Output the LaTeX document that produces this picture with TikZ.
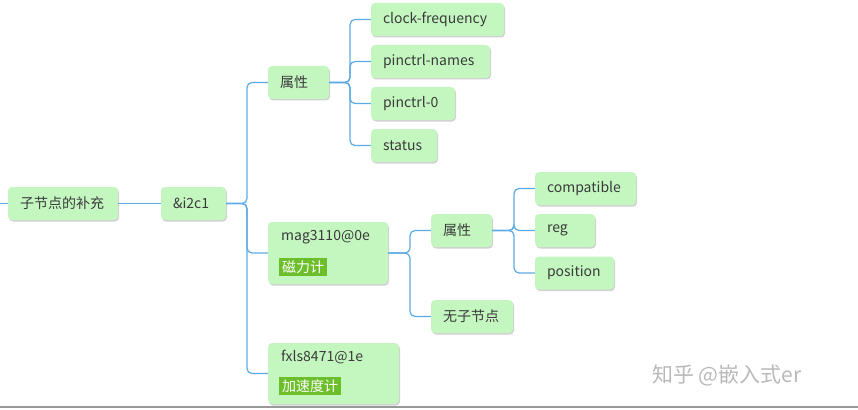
\documentclass[tikz,border=0pt]{standalone}
\usepackage{fontspec}
\setmainfont{Noto Sans CJK SC}
\usetikzlibrary{shadows}
\definecolor{nfill}{HTML}{C4F7C0}
\definecolor{lblue}{HTML}{5AAAE6}
\definecolor{tagg}{HTML}{6CBF2B}
\definecolor{txt}{HTML}{3A3A3A}
\begin{document}
\begin{tikzpicture}[x=1pt,y=-1pt,
  box/.style={fill=nfill,rounded corners=4pt,text=txt,font=\fontsize{14}{16}\selectfont,
    inner xsep=12pt,inner ysep=0pt,align=left,text width=#1-24pt,minimum width=#1,minimum height=33pt,anchor=center,
    drop shadow={shadow xshift=1pt,shadow yshift=-1.5pt,fill=black!18,opacity=1}},
  tall/.style={minimum height=#1},
  tag/.style={fill=tagg,text=white,font=\fontsize{14}{16}\selectfont,inner xsep=3pt,inner ysep=3pt,anchor=west},
  conn/.style={draw=lblue,line width=1.2pt,rounded corners=5pt}]
\useasboundingbox (0,0) rectangle (858,409);
\draw[gray!80,line width=1.2pt] (0,407) -- (858,407);
% nodes
\node[box=110pt] (root) at (63,203.5) {子节点的补充};
\node[box=65pt] (i2c) at (193.5,203.5) {\&i2c1};
\node[box=61pt] (p1) at (298.5,82.5) {属性};
\node[box=133pt] (cf) at (437.5,19.5) {clock-frequency};
\node[box=119pt] (pn) at (430.5,61.5) {pinctrl-names};
\node[box=84pt] (p0) at (413,103.5) {pinctrl-0};
\node[box=66pt] (st) at (404,145.5) {status};
\node[box=120pt,tall=62pt] (mag) at (328,253) {};
\node[anchor=west,text=txt,font=\fontsize{14}{16}\selectfont,inner sep=0pt] (magt) at (281,237) {mag3110@0e};
\node[tag] (magg) at (279,267) {磁力计};
\node[box=131pt,tall=61pt] (fx) at (333.5,373.5) {};
\node[anchor=west,text=txt,font=\fontsize{14}{16}\selectfont,inner sep=0pt] (fxt) at (281,357) {fxls8471@1e};
\node[tag] (fxg) at (279,386) {加速度计};
\node[box=61pt] (p2) at (461.5,230.5) {属性};
\node[box=82pt] (nc) at (472,316.5) {无子节点};
\node[box=101pt] (cp) at (585.5,188.5) {compatible};
\node[box=60pt] (rg) at (565,230.5) {reg};
\node[box=79pt] (ps) at (574.5,273) {position};
\node[text=gray!55,font=\fontsize{21}{24}\selectfont,anchor=west,inner sep=0pt] (wm) at (652,375) {知乎 @嵌入式er};
% trunks
\coordinate (l0) at (0,203.5);
\coordinate (t1) at (247,203.5);
\coordinate (t2) at (350,82.5);
\coordinate (t3) at (410,253);
\coordinate (t4) at (514,230.5);
\draw[conn] (l0) -- (root.west);
\draw[conn] (root.east) -- (i2c.west);
\draw[conn] (i2c.east) -- (t1) |- (p1.west);
\draw[conn] (i2c.east) -- (t1) |- (mag.west);
\draw[conn] (i2c.east) -- (t1) |- (fx.west);
\draw[conn] (p1.east) -- (t2) |- (cf.west);
\draw[conn] (p1.east) -- (t2) |- (pn.west);
\draw[conn] (p1.east) -- (t2) |- (p0.west);
\draw[conn] (p1.east) -- (t2) |- (st.west);
\draw[conn] (mag.east) -- (t3) |- (p2.west);
\draw[conn] (mag.east) -- (t3) |- (nc.west);
\draw[conn] (p2.east) -- (t4) |- (cp.west);
\draw[conn] (p2.east) -- (t4) |- (rg.west);
\draw[conn] (p2.east) -- (t4) |- (ps.west);
\end{tikzpicture}
\end{document}
